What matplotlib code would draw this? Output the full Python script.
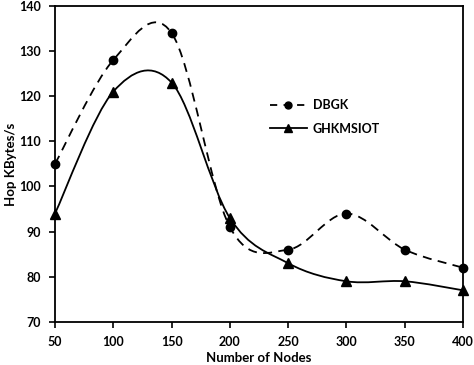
import numpy as np
import matplotlib
matplotlib.use("Agg")
import matplotlib.pyplot as plt
from matplotlib.path import Path
from matplotlib.patches import PathPatch
from matplotlib.lines import Line2D

nodes = [50, 100, 150, 200, 250, 300, 350, 400]
dbgk = [105, 128, 134, 91, 86, 94, 86, 82]
ghkmsiot = [94, 121, 123, 93, 83, 79, 79, 77]
xticks = [50, 100, 150, 200, 250, 300, 350, 400]
yticks = [70, 80, 90, 100, 110, 120, 130, 140]

plt.rcParams['font.family'] = ['Lato', 'DejaVu Sans']
plt.rcParams['font.weight'] = 'bold'

fig = plt.figure(figsize=(4.74, 3.65), dpi=100)
ax = fig.add_axes([0.116, 0.118, 0.861, 0.866])

def smooth_path(x, y):
    x = np.asarray(x, float); y = np.asarray(y, float)
    n = len(x)
    verts = [(x[0], y[0])]
    codes = [Path.MOVETO]
    for i in range(n - 1):
        xp, yp = (x[i-1], y[i-1]) if i > 0 else (x[i], y[i])
        xn, yn = (x[i+2], y[i+2]) if i + 2 < n else (x[i+1], y[i+1])
        c1 = (x[i] + (x[i+1] - xp) / 6, y[i] + (y[i+1] - yp) / 6)
        c2 = (x[i+1] - (xn - x[i]) / 6, y[i+1] - (yn - y[i]) / 6)
        verts += [c1, c2, (x[i+1], y[i+1])]
        codes += [Path.CURVE4] * 3
    return Path(verts, codes)

p1 = PathPatch(smooth_path(nodes, dbgk), fill=False, edgecolor='black', lw=1.3,
               linestyle=(0, (5, 3.5)))
p2 = PathPatch(smooth_path(nodes, ghkmsiot), fill=False, edgecolor='black', lw=1.3)
ax.add_patch(p1)
ax.add_patch(p2)
ax.plot(nodes, dbgk, 'o', color='black', ms=6, clip_on=False, zorder=5)
ax.plot(nodes, ghkmsiot, '^', color='black', ms=7, clip_on=False, zorder=5)

ax.set_xlim(50, 400)
ax.set_ylim(70, 140)
ax.set_xticks(xticks)
ax.set_yticks(yticks)
ax.tick_params(direction='out', length=4, width=1.2, labelsize=9)
ax.tick_params(axis='y', pad=6)
ax.tick_params(axis='x', pad=6)
for lab in ax.get_xticklabels() + ax.get_yticklabels():
    lab.set_fontweight('bold')
for s in ax.spines.values():
    s.set_linewidth(1.3)
ax.set_xlabel('Number of Nodes', fontsize=9.5, fontweight='bold')
ax.set_ylabel('Hop KBytes/s', fontsize=9.5, fontweight='bold')
ax.xaxis.set_label_coords(0.5, -0.095)
ax.yaxis.set_label_coords(-0.093, 0.5)

handles = [Line2D([], [], color='black', lw=1.3, linestyle=(0, (4, 3.5)), marker='o', ms=5),
           Line2D([], [], color='black', lw=1.3, marker='^', ms=5.5)]
ax.legend(handles, ['DBGK', 'GHKMSIOT'], loc='center left', bbox_to_anchor=(0.5, 0.648),
          frameon=False, prop={'weight': 'bold', 'size': 9},
          handlelength=2.9, handletextpad=0.5, labelspacing=0.9)

fig.savefig('out.png', dpi=100)
